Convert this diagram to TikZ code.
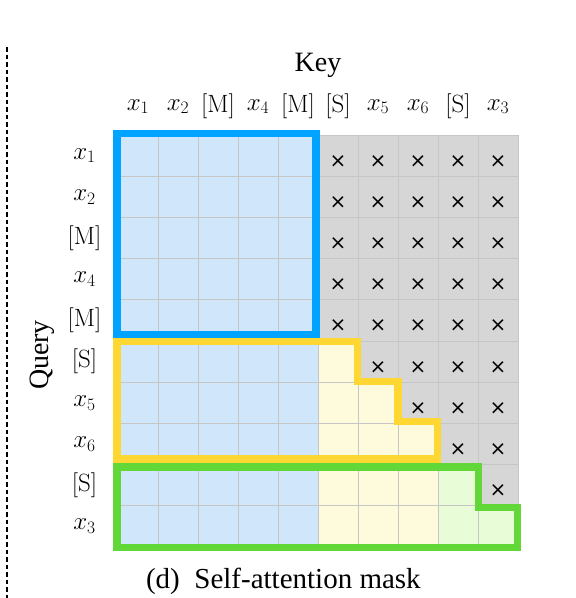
\documentclass[tikz,border=0pt]{standalone}
\usepackage{fix-cm}
\usepackage[no-math]{fontspec}
\setmainfont{Liberation Serif}
\newfontfamily\dejavu{DejaVu Sans}
\definecolor{cellblue}{RGB}{208,230,251}
\definecolor{cellyellow}{RGB}{254,251,221}
\definecolor{cellgreen}{RGB}{232,252,216}
\definecolor{cellgray}{RGB}{214,214,214}
\definecolor{gridline}{RGB}{198,198,198}
\definecolor{borderblue}{RGB}{0,163,255}
\definecolor{borderyellow}{RGB}{255,215,50}
\definecolor{bordergreen}{RGB}{98,216,56}
\begin{document}
\begin{tikzpicture}[x=1pt,y=-1pt,
  cell/.style={draw=gridline, line width=1pt},
  xmark/.style={font=\dejavu\fontsize{20}{20}\selectfont, inner sep=0pt, text=black},
  mathlab/.style={font=\fontsize{25}{30}\selectfont, inner sep=0pt},
  border/.style={line width=7.5pt, line join=miter},
  biglab/.style={font=\fontsize{28}{32}\selectfont, anchor=base, inner sep=0pt}]
\useasboundingbox (0,0) rectangle (576,598);
% cells
\foreach \r/\ny/\ng in {1/0/0,2/0/0,3/0/0,4/0/0,5/0/0,6/1/0,7/2/0,8/3/0,9/3/1,10/3/2} {
  \foreach \c in {1,...,10} {
    \pgfmathsetmacro{\xa}{118+40*(\c-1)}
    \pgfmathsetmacro{\ya}{135+41.2*(\r-1)}
    \pgfmathtruncatemacro{\kind}{\c<=5 ? 1 : (\c<=5+\ny ? 2 : (\c<=5+\ny+\ng ? 3 : 4))}
    \ifcase\kind\or\def\fc{cellblue}\or\def\fc{cellyellow}\or\def\fc{cellgreen}\or\def\fc{cellgray}\fi
    \draw[cell, fill=\fc] (\xa,\ya) rectangle ++(40,41.2);
    \ifnum\kind=4
      \node[xmark] (m-\r-\c) at (\xa+20,\ya+26.1) {×};
    \fi
  }
}
% borders
\draw[border, draw=borderblue] (117,133.5) rectangle (316,335);
\draw[border, draw=borderyellow] (117,341.5) -- (357.5,341.5) -- (357.5,381.7) -- (398,381.7) -- (398,421.7) -- (437.7,421.7) -- (437.7,459) -- (117,459) -- cycle;
\draw[border, draw=bordergreen] (117,467) -- (478.3,467) -- (478.3,507.5) -- (517.5,507.5) -- (517.5,547.5) -- (117,547.5) -- cycle;
% labels
\foreach \i/\t in {1/{x_1},2/{x_2},3/{[\mathrm{M}]},4/{x_4},5/{[\mathrm{M}]},6/{[\mathrm{S}]},7/{x_5},8/{x_6},9/{[\mathrm{S}]},10/{x_3}} {
  \node[mathlab] (col-\i) at (138+40*\i-40,106.5) {$\t$};
  \node[mathlab] (row-\i) at (84.5,155.6+41.2*\i-41.2) {$\t$};
}
\node[biglab] (key) at (318,71.7) {Key};
\node[biglab, rotate=90] (query) at (48.5,355) {Query};
\node[font=\fontsize{29}{34}\selectfont, anchor=base, inner sep=0pt] (caption) at (283.4,588.3) {(d)\ \ Self-attention mask};
% dashed separator
\draw[line width=2.6pt, dash pattern=on 4.5pt off 3pt] (7,47) -- (7,598);
\end{tikzpicture}
\end{document}
